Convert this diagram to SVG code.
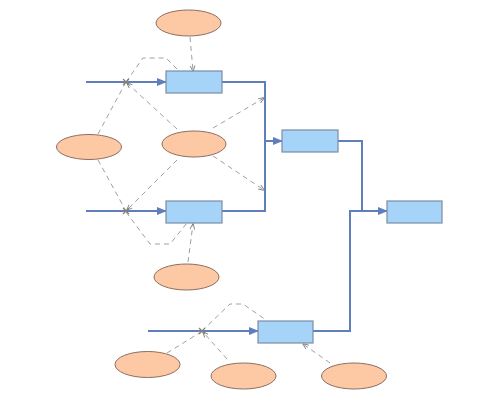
<svg xmlns="http://www.w3.org/2000/svg" width="500" height="400" viewBox="0 0 500 400">
<style>
.place{fill:#fdc9a5;stroke:#8c6e60;stroke-width:1;}
.trans{fill:#a6d3f8;stroke:#7a8ea6;stroke-width:1.2;}
.flow{fill:none;stroke:#5f7fbc;stroke-width:2;}
.ctl{fill:none;stroke:#a0a0a0;stroke-width:1;stroke-dasharray:5,4;}
</style>
<defs>
<marker id="ab" viewBox="0 0 10 10" refX="9" refY="5" markerWidth="5" markerHeight="5" orient="auto"><path d="M0,1 L10,5 L0,9 z" fill="#5f7fbc"/></marker>
<marker id="ag" viewBox="0 0 10 10" refX="9" refY="5" markerWidth="6" markerHeight="6" orient="auto"><path d="M0,1 L10,5 L0,9" fill="none" stroke="#808080" stroke-width="1.5"/></marker>
</defs>
<rect width="500" height="400" fill="#ffffff"/>
<g id="connectors">
<path class="flow" d="M86,82 H166" marker-end="url(#ab)"/>
<path class="flow" d="M86,211 H166" marker-end="url(#ab)"/>
<path class="flow" d="M222,82 H265 V211 H222"/>
<path class="flow" d="M265,141 H282" marker-end="url(#ab)"/>
<path class="flow" d="M338,141 H362 V211"/>
<path class="flow" d="M148,331 H258" marker-end="url(#ab)"/>
<path class="flow" d="M313,331 H350 V211 H387" marker-end="url(#ab)"/>
<path class="ctl" d="M190,37 L193,71" marker-end="url(#ag)"/>
<path class="ctl" d="M98,134 L126,82"/>
<path class="ctl" d="M177,129 L127,83" marker-end="url(#ag)"/>
<path class="ctl" d="M126,82 L143,58 H166 L178,70"/>
<path class="ctl" d="M213,128 L264,98" marker-end="url(#ag)"/>
<path class="ctl" d="M98,160 L126,211"/>
<path class="ctl" d="M177,160 L127,210" marker-end="url(#ag)"/>
<path class="ctl" d="M126,212 L150,244 H170 L187,223"/>
<path class="ctl" d="M213,156 L264,190" marker-end="url(#ag)"/>
<path class="ctl" d="M188,262 L193,224" marker-end="url(#ag)"/>
<path class="ctl" d="M167,353 L201,332"/>
<path class="ctl" d="M227,359 L203,332" marker-end="url(#ag)"/>
<path class="ctl" d="M202,331 L230,304 H243 L266,320"/>
<path class="ctl" d="M330,363 L303,344" marker-end="url(#ag)"/>
<path d="M123,79 L129,85 M129,79 L123,85 M122,82 H130" stroke="#808080" stroke-width="1.2"/>
<path d="M123,208 L129,214 M129,208 L123,214 M122,211 H130" stroke="#808080" stroke-width="1.2"/>
<path d="M199,328 L205,334 M205,328 L199,334 M198,331 H206" stroke="#808080" stroke-width="1.2"/>
</g>
<g id="t1"><rect class="trans" x="166" y="71" width="56" height="22"/></g>
<g id="t2"><rect class="trans" x="166" y="201" width="56" height="22"/></g>
<g id="t3"><rect class="trans" x="282" y="130" width="56" height="22"/></g>
<g id="t4"><rect class="trans" x="387" y="201" width="55" height="22"/></g>
<g id="t5"><rect class="trans" x="258" y="321" width="55" height="22"/></g>
<g id="p1"><ellipse class="place" cx="188.5" cy="23" rx="32.5" ry="13"/></g>
<g id="p2"><ellipse class="place" cx="89" cy="147" rx="32.5" ry="12.5"/></g>
<g id="p3"><ellipse class="place" cx="194" cy="144" rx="32" ry="13"/></g>
<g id="p4"><ellipse class="place" cx="186.5" cy="277" rx="32.5" ry="13"/></g>
<g id="p5"><ellipse class="place" cx="147.5" cy="364.5" rx="32.5" ry="13"/></g>
<g id="p6"><ellipse class="place" cx="243.5" cy="376" rx="32.5" ry="13"/></g>
<g id="p7"><ellipse class="place" cx="354" cy="376" rx="32.5" ry="13"/></g>
</svg>
